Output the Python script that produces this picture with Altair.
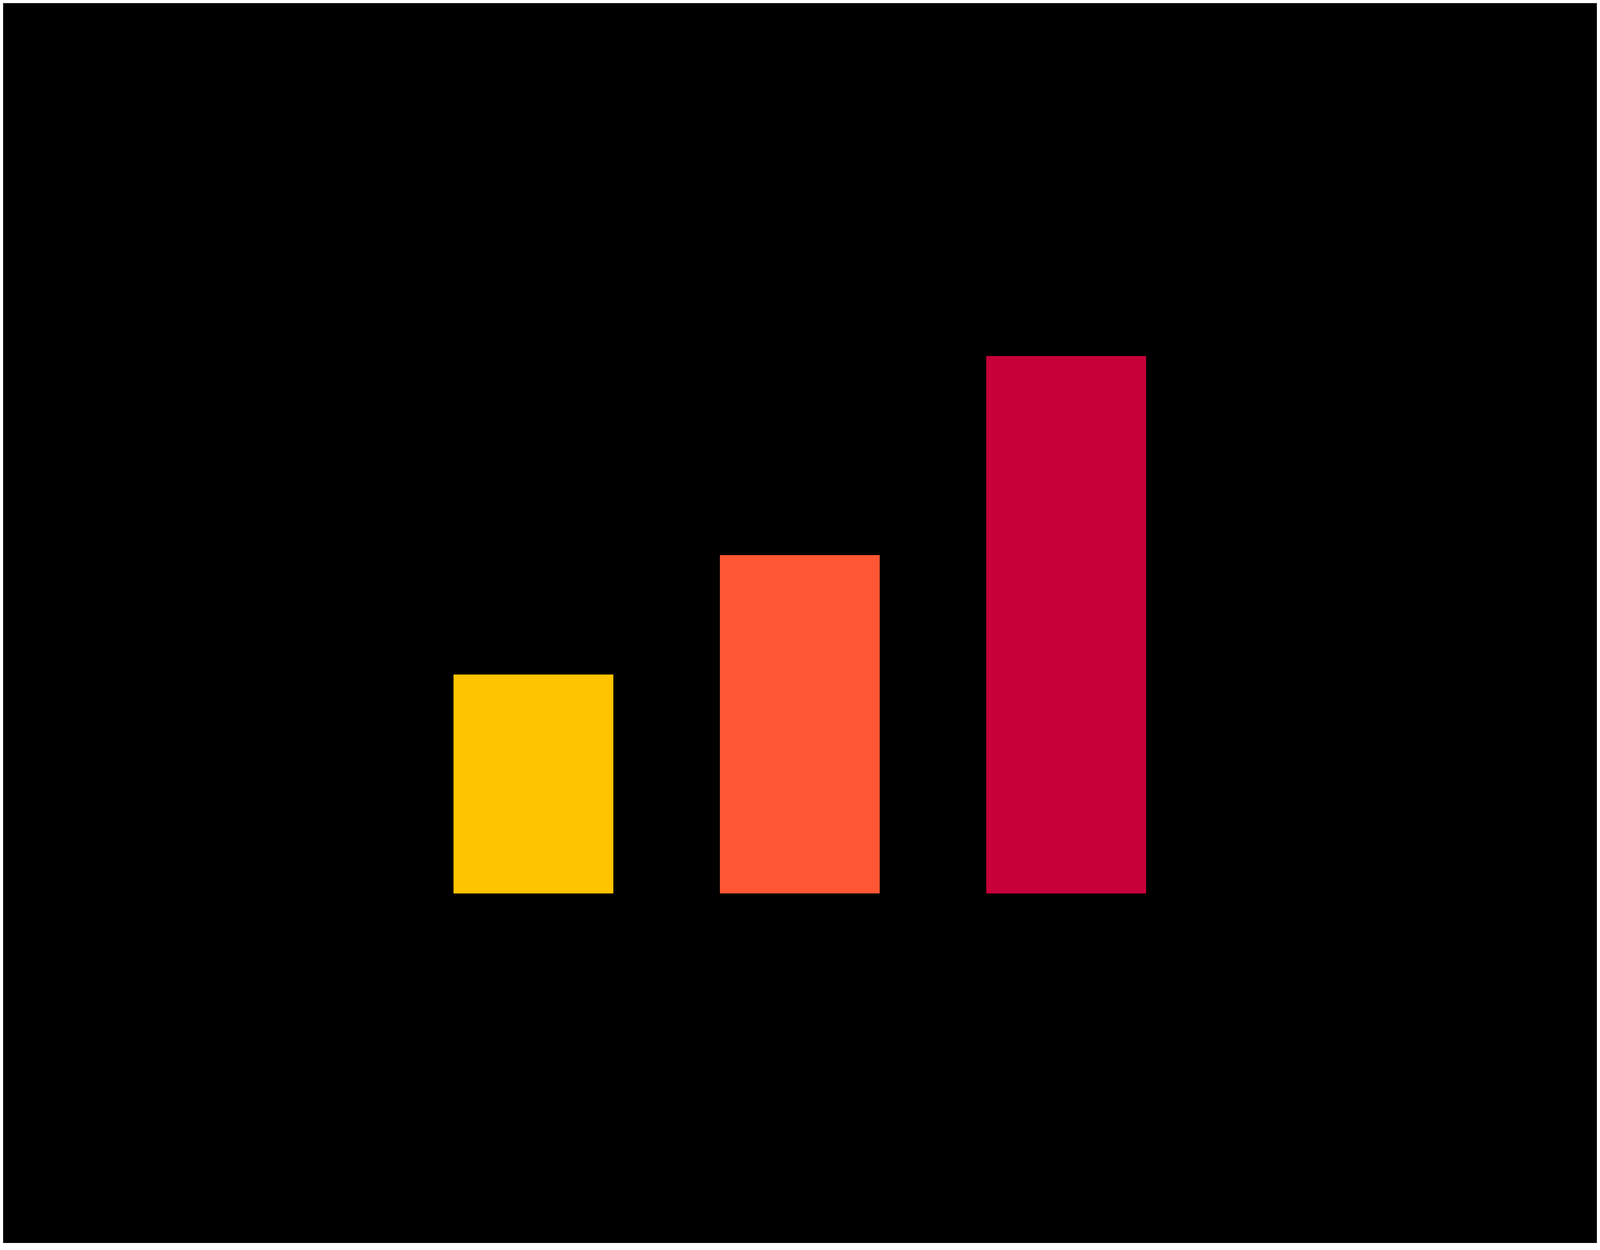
import altair as alt
import pandas as pd

categories = ["A", "B", "C"]
values = [22, 34, 54]
colors = ["#FFC300", "#FF5733", "#C70039"]

df = pd.DataFrame({"category": categories, "value": values, "color": colors})

chart = (
    alt.Chart(df)
    .mark_bar()
    .encode(
        x=alt.X("category:N", sort=categories, axis=None,
                scale=alt.Scale(paddingInner=0.4, paddingOuter=0.2)),
        y=alt.Y("value:Q", axis=None, scale=alt.Scale(domain=[0, 54], nice=False)),
        color=alt.Color("color:N", scale=None, legend=None),
    )
    .properties(
        width=2131,
        height=1433,
        background="#000000",
        padding={"left": 1059, "top": 875, "right": 1060, "bottom": 866},
        autosize=alt.AutoSizeParams(type="none"),
    )
    .configure_view(stroke=None)
)

chart.save("out.html", embed_options={"renderer": "svg", "actions": False})
